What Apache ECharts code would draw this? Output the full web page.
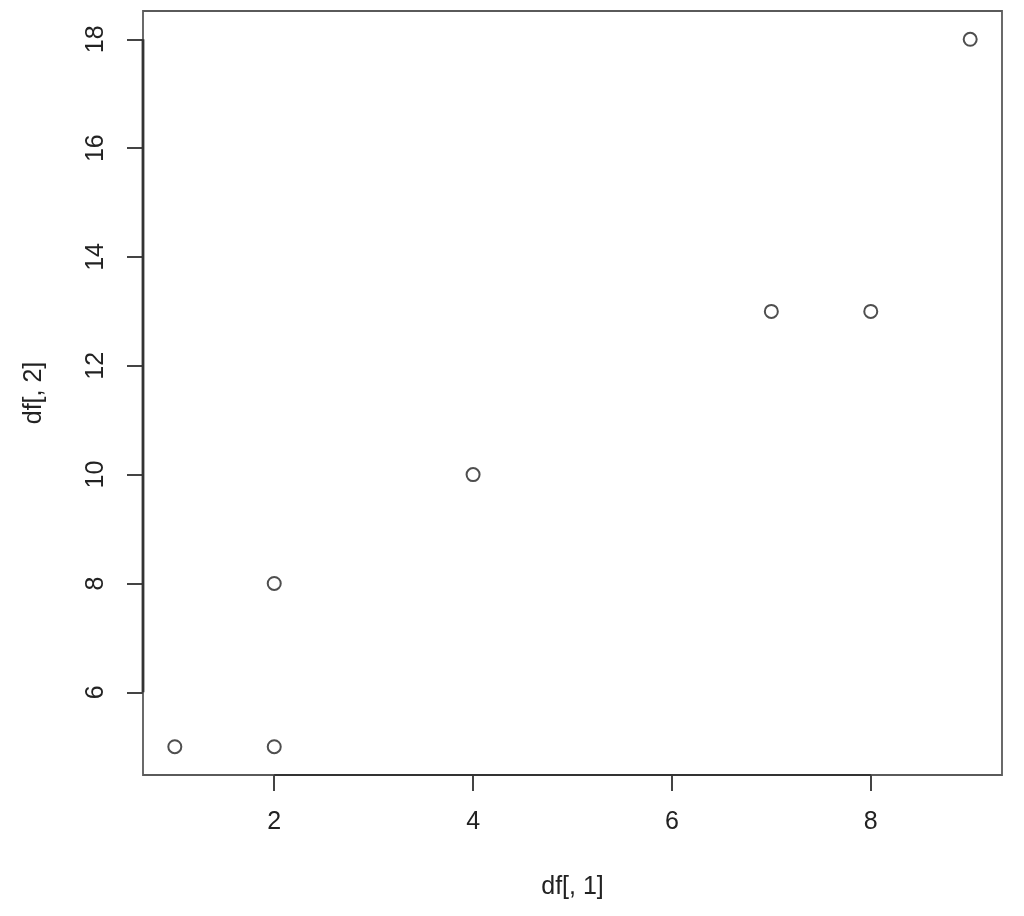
<!DOCTYPE html>
<html><head><meta charset="utf-8">
<script src="https://cdn.jsdelivr.net/npm/echarts@6/dist/echarts.min.js"></script>
<style>html,body{margin:0;padding:0;background:#fff}#c{width:1024px;height:916px}</style>
</head><body><div id="c"></div>
<script>
var xValues = [1, 2, 2, 4, 7, 8, 9];
var yValues = [5, 5, 8, 10, 13, 13, 18];
var xTicks = [2, 4, 6, 8];
var yTicks = [6, 8, 10, 12, 14, 16, 18];
var xName = 'df[, 1]';
var yName = 'df[, 2]';

function pad(arr) {
  var mn = Math.min.apply(null, arr), mx = Math.max.apply(null, arr);
  var d = (mx - mn) * 0.04;
  return [mn - d, mx + d];
}
var xr = pad(xValues), yr = pad(yValues);
var pts = xValues.map(function (v, i) { return [v, yValues[i]]; });
var font = 'Liberation Sans, Arial, sans-serif';
var fs = 25;

var chart = echarts.init(document.getElementById('c'), null, {renderer: 'canvas'});
chart.setOption({
  animation: false,
  backgroundColor: '#fff',
  grid: {left: 143, right: 22, top: 11, bottom: 141, show: true, borderColor: '#5a5a5a', borderWidth: 1.8, backgroundColor: 'transparent'},
  xAxis: {
    type: 'value', min: xr[0], max: xr[1],
    name: xName, nameLocation: 'middle', nameGap: 100,
    nameTextStyle: {fontFamily: font, fontSize: fs, color: '#222'},
    axisLine: {show: false},
    splitLine: {show: false},
    axisTick: {show: true, customValues: xTicks, length: 16, inside: false, lineStyle: {color: '#444', width: 2}},
    axisLabel: {customValues: xTicks, fontFamily: font, fontSize: fs, color: '#222', margin: 35}
  },
  yAxis: {
    type: 'value', min: yr[0], max: yr[1],
    name: yName, nameLocation: 'middle', nameGap: 96, nameRotate: 90,
    nameTextStyle: {fontFamily: font, fontSize: fs, color: '#222'},
    axisLine: {show: false},
    splitLine: {show: false},
    axisTick: {show: true, customValues: yTicks, length: 16, lineStyle: {color: '#444', width: 2}},
    axisLabel: {customValues: yTicks, rotate: 90, fontFamily: font, fontSize: fs, color: '#222', margin: 34}
  },
  series: [
    {
      type: 'scatter', data: pts, symbol: 'circle', symbolSize: 13,
      itemStyle: {color: 'rgba(0,0,0,0)', borderColor: '#222', borderWidth: 2},
      silent: true, z: 5
    },
    {
      type: 'custom', silent: true, z: 4,
      data: [[0]],
      renderItem: function (params, api) {
        var xa = api.coord([xTicks[0], yr[0]]), xb = api.coord([xTicks[xTicks.length - 1], yr[0]]);
        var ya = api.coord([xr[0], yTicks[0]]), yb = api.coord([xr[0], yTicks[yTicks.length - 1]]);
        return {type: 'group', children: [
          {type: 'line', shape: {x1: xa[0], y1: xa[1], x2: xb[0], y2: xb[1]}, style: {stroke: '#333', lineWidth: 2.2}},
          {type: 'line', shape: {x1: ya[0], y1: ya[1], x2: yb[0], y2: yb[1]}, style: {stroke: '#333', lineWidth: 2.8}}
        ]};
      }
    }
  ]
});
</script></body></html>
